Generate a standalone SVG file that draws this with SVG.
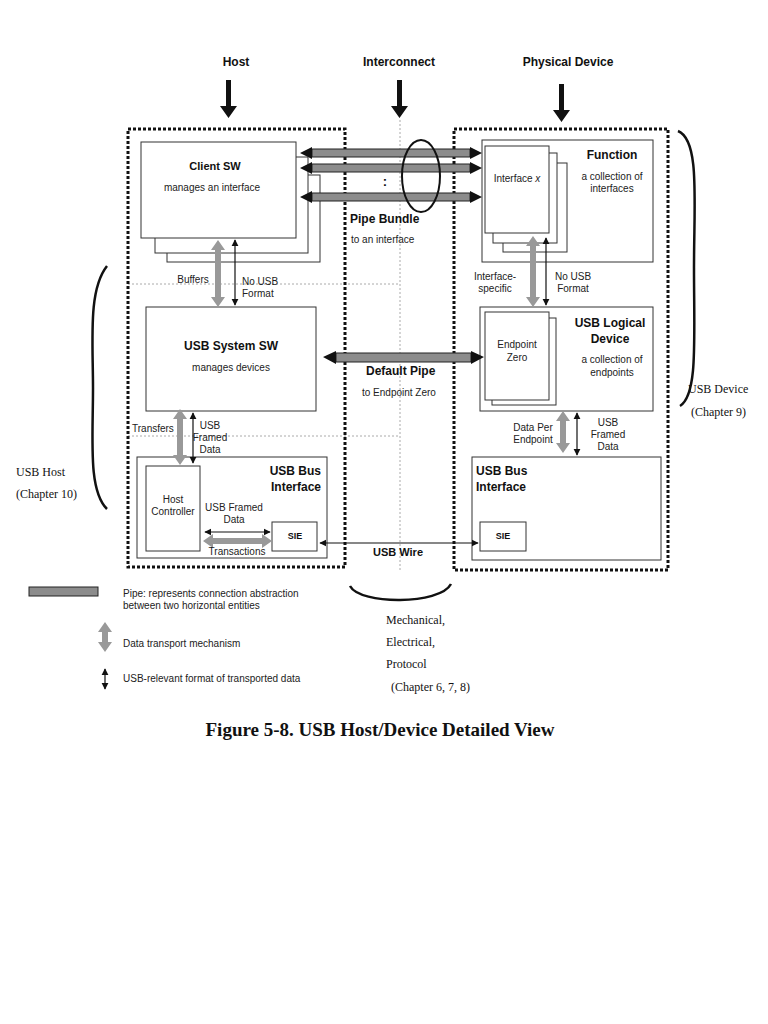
<svg xmlns="http://www.w3.org/2000/svg" width="768" height="1024" viewBox="0 0 768 1024">
<defs>
<style>
.t{font-family:"Liberation Sans",Arial,sans-serif;font-size:10px;fill:#222}
.b{font-family:"Liberation Sans",Arial,sans-serif;font-weight:bold;fill:#111}
.s{font-family:"Liberation Serif","Times New Roman",serif;font-size:12px;fill:#111}
.box{fill:#fff;stroke:#333;stroke-width:1}
.dot{fill:none;stroke:#111;stroke-width:3;stroke-dasharray:3 2}
.guide{fill:none;stroke:#aaa;stroke-width:1;stroke-dasharray:2 2}
.pipe{fill:#8c8c8c;stroke:#222;stroke-width:1}
.head{fill:#111}
.grey{fill:#999}
.thin{stroke:#111;stroke-width:1.2;fill:none}
</style>
<marker id="ah" viewBox="0 0 10 10" refX="9" refY="5" markerWidth="6" markerHeight="6" orient="auto-start-reverse"><path d="M0,0L10,5L0,10z" fill="#111"/></marker>
</defs>
<rect width="768" height="1024" fill="#fff"/>

<g id="titles">
<text class="b" x="236" y="66" font-size="12" text-anchor="middle">Host</text>
<text class="b" x="399" y="66" font-size="12" text-anchor="middle">Interconnect</text>
<text class="b" x="568" y="66" font-size="12" text-anchor="middle">Physical Device</text>
<path d="M226,80h5v26h6l-8.5,12l-8.5,-12h6z" fill="#111"/>
<path d="M397,80h5v26h6l-8.5,12l-8.5,-12h6z" fill="#111"/>
<path d="M559,84h5v26h6l-8.5,12l-8.5,-12h6z" fill="#111"/>
</g>

<g id="guides">
<line class="guide" x1="400" y1="120" x2="400" y2="572"/>
<line class="guide" x1="128" y1="284" x2="400" y2="284"/>
<line class="guide" x1="128" y1="436" x2="400" y2="436"/>
</g>

<rect id="host" class="dot" x="128" y="129" width="217" height="438"/>
<rect id="device" class="dot" x="454" y="129" width="214" height="441"/>

<g id="client-sw">
<rect class="box" x="167" y="175" width="153" height="87"/>
<rect class="box" x="155" y="157" width="153" height="96"/>
<rect class="box" x="141" y="142" width="155" height="96"/>
<text class="b" x="215" y="170" font-size="11" text-anchor="middle">Client SW</text>
<text class="t" x="212" y="191" text-anchor="middle">manages an interface</text>
</g>

<g id="usb-system-sw">
<rect class="box" x="146" y="307" width="170" height="104"/>
<text class="b" x="231" y="350" font-size="12" text-anchor="middle">USB System SW</text>
<text class="t" x="231" y="371" text-anchor="middle">manages devices</text>
</g>

<g id="host-bus">
<rect class="box" x="137" y="457" width="190" height="101"/>
<text class="b" x="321" y="475" font-size="12" text-anchor="end">USB Bus</text>
<text class="b" x="321" y="491" font-size="12" text-anchor="end">Interface</text>
<rect class="box" x="146" y="466" width="54" height="85"/>
<text class="t" x="173" y="503" text-anchor="middle">Host</text>
<text class="t" x="173" y="515" text-anchor="middle">Controller</text>
<rect class="box" x="272" y="522" width="45" height="29"/>
<text class="b" x="295" y="539" font-size="9" text-anchor="middle">SIE</text>
</g>

<g id="function">
<rect class="box" x="482" y="140" width="171" height="122"/>
<rect class="box" x="503" y="163" width="64" height="89"/>
<rect class="box" x="493" y="153" width="64" height="90"/>
<rect class="box" x="485" y="146" width="64" height="87"/>
<text class="t" x="517" y="182" text-anchor="middle">Interface <tspan font-style="italic">x</tspan></text>
<text class="b" x="612" y="159" font-size="12" text-anchor="middle">Function</text>
<text class="t" x="612" y="180" text-anchor="middle">a collection of</text>
<text class="t" x="612" y="192" text-anchor="middle">interfaces</text>
</g>

<g id="logical-device">
<rect class="box" x="480" y="307" width="173" height="104"/>
<rect class="box" x="492" y="318" width="64" height="87"/>
<rect class="box" x="485" y="312" width="64" height="88"/>
<text class="t" x="517" y="348" text-anchor="middle">Endpoint</text>
<text class="t" x="517" y="361" text-anchor="middle">Zero</text>
<text class="b" x="610" y="327" font-size="12" text-anchor="middle">USB Logical</text>
<text class="b" x="610" y="343" font-size="12" text-anchor="middle">Device</text>
<text class="t" x="612" y="363" text-anchor="middle">a collection of</text>
<text class="t" x="612" y="376" text-anchor="middle">endpoints</text>
</g>

<g id="device-bus">
<rect class="box" x="472" y="457" width="189" height="103"/>
<text class="b" x="476" y="475" font-size="12">USB Bus</text>
<text class="b" x="476" y="491" font-size="12">Interface</text>
<rect class="box" x="480" y="522" width="46" height="29"/>
<text class="b" x="503" y="539" font-size="9" text-anchor="middle">SIE</text>
</g>

<g id="connectors">
<!-- pipes -->
<g>
<rect class="pipe" x="312" y="149" width="158" height="8"/><path class="head" d="M300,153l12,-6v12z M482,153l-12,-6v12z"/>
<rect class="pipe" x="312" y="164" width="158" height="8"/><path class="head" d="M300,168l12,-6v12z M482,168l-12,-6v12z"/>
<rect class="pipe" x="312" y="193" width="158" height="8"/><path class="head" d="M300,197l12,-6v12z M482,197l-12,-6v12z"/>
<rect class="pipe" x="336" y="353" width="135" height="9"/><path class="head" d="M323,357l13,-6v13z M484,357l-13,-6v13z"/>
</g>
<text class="b" x="385" y="186" font-size="13" text-anchor="middle">:</text>
<ellipse cx="421" cy="176" rx="19" ry="36" fill="none" stroke="#111" stroke-width="2"/>
<text class="b" x="350" y="223" font-size="12">Pipe Bundle</text>
<text class="t" x="351" y="243">to an interface</text>
<text class="b" x="366" y="375" font-size="12">Default Pipe</text>
<text class="t" x="362" y="396">to Endpoint Zero</text>

<!-- grey data transport arrows -->
<path class="grey" d="M218,240l7,10h-4v47h4l-7,10l-7,-10h4v-47h-4z"/>
<path class="grey" d="M180,409l7,10h-4v36h4l-7,10l-7,-10h4v-36h-4z"/>
<path class="grey" d="M533,236l7,10h-4v51h4l-7,10l-7,-10h4v-51h-4z"/>
<path class="grey" d="M563,411l7,10h-4v22h4l-7,10l-7,-10h4v-22h-4z"/>
<path class="grey" d="M203,541l10,-7v4h49v-4l10,7l-10,7v-4h-49v4z"/>

<!-- black format arrows -->
<line class="thin" x1="235" y1="240" x2="235" y2="305" marker-start="url(#ah)" marker-end="url(#ah)"/>
<line class="thin" x1="193" y1="413" x2="193" y2="463" marker-start="url(#ah)" marker-end="url(#ah)" stroke-width="1.8"/>
<line class="thin" x1="546" y1="238" x2="546" y2="305" marker-start="url(#ah)" marker-end="url(#ah)"/>
<line class="thin" x1="577" y1="413" x2="577" y2="455" marker-start="url(#ah)" marker-end="url(#ah)"/>
<line class="thin" x1="205" y1="532" x2="270" y2="532" marker-start="url(#ah)" marker-end="url(#ah)" stroke-width="1.8"/>
<line class="thin" x1="320" y1="543" x2="478" y2="543" marker-start="url(#ah)" marker-end="url(#ah)" stroke-width="0.8"/>

<text class="t" x="193" y="283" text-anchor="middle">Buffers</text>
<text class="t" x="242" y="285">No USB</text>
<text class="t" x="242" y="297">Format</text>
<text class="t" x="132" y="432">Transfers</text>
<text class="t" x="210" y="429" text-anchor="middle">USB</text>
<text class="t" x="210" y="441" text-anchor="middle">Framed</text>
<text class="t" x="210" y="453" text-anchor="middle">Data</text>
<text class="t" x="234" y="511" text-anchor="middle">USB Framed</text>
<text class="t" x="234" y="523" text-anchor="middle">Data</text>
<text class="t" x="237" y="555" text-anchor="middle">Transactions</text>
<text class="b" x="398" y="556" font-size="11" text-anchor="middle">USB Wire</text>
<text class="t" x="495" y="280" text-anchor="middle">Interface-</text>
<text class="t" x="495" y="292" text-anchor="middle">specific</text>
<text class="t" x="573" y="280" text-anchor="middle">No USB</text>
<text class="t" x="573" y="292" text-anchor="middle">Format</text>
<text class="t" x="533" y="431" text-anchor="middle">Data Per</text>
<text class="t" x="533" y="443" text-anchor="middle">Endpoint</text>
<text class="t" x="608" y="426" text-anchor="middle">USB</text>
<text class="t" x="608" y="438" text-anchor="middle">Framed</text>
<text class="t" x="608" y="450" text-anchor="middle">Data</text>
</g>

<g id="braces">
<path d="M678,131C700,140 694,200 694,268C694,340 698,395 680,406" fill="none" stroke="#111" stroke-width="2.5"/>
<path d="M107,266C88,290 93,340 93,388C93,440 88,490 107,509" fill="none" stroke="#111" stroke-width="2.5"/>
<path d="M350,586C360,605 440,605 451,584" fill="none" stroke="#111" stroke-width="2.5"/>
<text class="s" x="688" y="393">USB Device</text>
<text class="s" x="691" y="416">(Chapter 9)</text>
<text class="s" x="16" y="476">USB Host</text>
<text class="s" x="16" y="498">(Chapter 10)</text>
<text class="s" x="386" y="624">Mechanical,</text>
<text class="s" x="386" y="646">Electrical,</text>
<text class="s" x="386" y="668">Protocol</text>
<text class="s" x="391" y="691">(Chapter 6, 7, 8)</text>
</g>

<g id="legend">
<rect class="pipe" x="29" y="587" width="69" height="9"/>
<text class="t" x="123" y="597">Pipe:  represents connection abstraction</text>
<text class="t" x="123" y="609">between two horizontal entities</text>
<path class="grey" d="M105,622l7,10h-4v10h4l-7,10l-7,-10h4v-10h-4z"/>
<text class="t" x="123" y="647">Data transport mechanism</text>
<line class="thin" x1="105" y1="669" x2="105" y2="689" marker-start="url(#ah)" marker-end="url(#ah)" stroke-width="2"/>
<text class="t" x="123" y="682">USB-relevant format of transported data</text>
</g>

<text x="380" y="736" font-family="Liberation Serif,'Times New Roman',serif" font-weight="bold" font-size="19" text-anchor="middle" fill="#111">Figure 5-8.  USB Host/Device Detailed View</text>
</svg>
